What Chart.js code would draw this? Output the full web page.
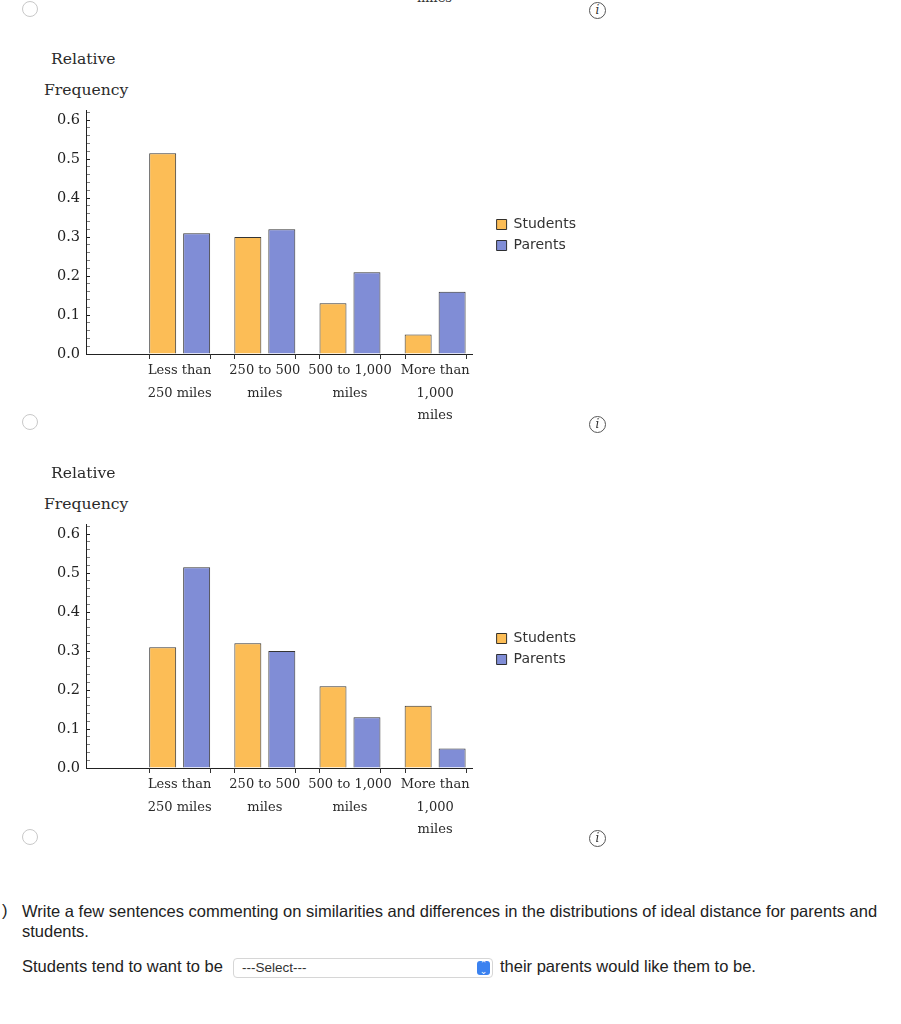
<!DOCTYPE html>
<html>
<head>
<meta charset="utf-8">
<script src="https://cdn.jsdelivr.net/npm/chart.js@4.4.0/dist/chart.umd.min.js"></script>
<style>
  body { margin: 0; background: #fff; width: 901px; height: 1024px; overflow: hidden; position: relative; }
  .abs { position: absolute; }
  .radio { width: 14px; height: 14px; border: 1px solid #c8c8c8; border-radius: 50%; background: #fff; }
  .info { width: 15px; height: 15px; border: 1px solid #555; border-radius: 50%; font: italic 12px "DejaVu Serif", serif; color: #333; text-align: center; line-height: 15px; }
  .ytitle { font: 15.6px "DejaVu Serif", serif; color: #2a2a2a; white-space: nowrap; }
  .miles { font: 13px "DejaVu Serif", serif; color: #333; }
  .q { font: 16.5px "Liberation Sans", Arial, sans-serif; color: #222; white-space: nowrap; }
  .sel { width: 258px; height: 18px; border: 1px solid #d6d6d6; border-radius: 4px; background: #fff; font: 13.5px "Liberation Sans", Arial, sans-serif; color: #333; }
  .sel span.arr { position: absolute; right: 2px; top: 2px; width: 13px; height: 14px; border-radius: 3px; background: #3b82f0; color: #fff; font: 9px "DejaVu Sans", sans-serif; text-align: center; line-height: 7px; }
</style>
</head>
<body>
<div class="abs miles" style="left:417px; top:-10px;">miles</div>

<div class="abs radio" style="left:22px; top:1px;"></div>
<div class="abs info" style="left:589px; top:2px;">i</div>
<div class="abs ytitle" style="left:51px; top:50px;">Relative</div>
<div class="abs ytitle" style="left:44px; top:81px;">Frequency</div>
<canvas id="chart1" class="abs" width="600" height="330" style="left:0; top:100px;"></canvas>

<div class="abs radio" style="left:22px; top:414px;"></div>
<div class="abs info" style="left:589px; top:416px;">i</div>
<div class="abs ytitle" style="left:51px; top:464px;">Relative</div>
<div class="abs ytitle" style="left:44px; top:495px;">Frequency</div>
<canvas id="chart2" class="abs" width="600" height="330" style="left:0; top:514px;"></canvas>

<div class="abs radio" style="left:22px; top:829px;"></div>
<div class="abs info" style="left:589px; top:830px;">i</div>

<div class="abs q" style="left:2px; top:901px;">)</div>
<div class="abs q" style="left:22px; top:901px; line-height:20px;">Write a few sentences commenting on similarities and differences in the distributions of ideal distance for parents and<br>students.</div>
<div class="abs q" style="left:22px; top:957px;">Students tend to want to be</div>
<div class="abs sel" style="left:233px; top:958px;"><span style="position:absolute; left:8px; top:1px;">---Select---</span><span class="arr">&#8963;<br>&#8964;</span></div>
<div class="abs q" style="left:500px; top:957px;">their parents would like them to be.</div>

<script>
// distance categories
const categories = [
  ["Less than", "250 miles"],
  ["250 to 500", "miles"],
  ["500 to 1,000", "miles"],
  ["More than", "1,000", "miles"]
];
const yTicks = [0, 0.1, 0.2, 0.3, 0.4, 0.5, 0.6];

// first chart
const students1 = [0.515, 0.30, 0.13, 0.05];
const parents1 = [0.31, 0.32, 0.21, 0.16];
// second chart
const students2 = [0.31, 0.32, 0.21, 0.16];
const parents2 = [0.515, 0.30, 0.13, 0.05];

const orange = "rgb(252,189,86)";
const blue = "rgb(128,141,214)";
const edge = "rgba(30,30,30,0.9)";

// small tick marks under the outer edges of every bar group
const groupTicks = {
  id: "groupTicks",
  afterDatasetsDraw(chart) {
    const ctx = chart.ctx;
    const s = chart.getDatasetMeta(0).data;
    const p = chart.getDatasetMeta(1).data;
    const y = chart.chartArea.bottom;
    ctx.save();
    ctx.strokeStyle = "#333";
    ctx.lineWidth = 1;
    for (let i = 0; i < s.length; i++) {
      const xs = [s[i].x - s[i].width / 2, p[i].x + p[i].width / 2];
      xs.forEach(x => {
        ctx.beginPath();
        ctx.moveTo(Math.round(x) + 0.5, y);
        ctx.lineTo(Math.round(x) + 0.5, y + 5);
        ctx.stroke();
      });
    }
    ctx.restore();
  }
};

// put the legend a bit away from the plot, centred on the plot height
const legendShift = {
  id: "legendShift",
  afterLayout(chart) {
    const lg = chart.legend;
    const w = lg.width;
    lg.left = chart.chartArea.right + 17;
    lg.right = lg.left + w;
    lg.top = chart.chartArea.top + 3;
    lg.bottom = chart.chartArea.bottom + 3;
  }
};

function makeChart(id, students, parents) {
  const ctx = document.getElementById(id).getContext("2d");
  return new Chart(ctx, {
    type: "bar",
    data: {
      datasets: [
        {
          label: "Students",
          data: students.map((v, i) => ({ x: i + 1, y: v })),
          backgroundColor: orange,
          borderColor: edge,
          borderWidth: 1,
          categoryPercentage: 0.798,
          barPercentage: 0.794
        },
        {
          label: "Parents",
          data: parents.map((v, i) => ({ x: i + 1, y: v })),
          backgroundColor: blue,
          borderColor: edge,
          borderWidth: 1,
          categoryPercentage: 0.798,
          barPercentage: 0.794
        }
      ]
    },
    options: {
      responsive: false,
      animation: false,
      layout: { padding: { top: 10, left: 0, right: 31, bottom: 0 } },
      plugins: {
        tooltip: { enabled: false },
        legend: {
          position: "right",
          align: "center",
          labels: {
            boxWidth: 10,
            boxHeight: 10,
            padding: 7,
            color: "#333",
            font: { family: "DejaVu Sans", size: 14 }
          }
        }
      },
      scales: {
        x: {
          type: "linear",
          offset: false,
          min: -0.1,
          max: 4.44,
          afterBuildTicks: scale => {
            scale.ticks = categories.map((c, i) => ({ value: i + 1 }));
          },
          afterFit: scale => {
            scale.height = 76;
            scale.paddingLeft = 0;
            scale.paddingRight = 0;
          },
          grid: { display: false, drawTicks: false, offset: false },
          border: { display: true, color: "#222", width: 1 },
          ticks: {
            autoSkip: false,
            maxRotation: 0,
            padding: 6,
            color: "#2a2a2a",
            font: { family: "DejaVu Serif", size: 13, lineHeight: 1.7 },
            callback: v => categories[v - 1] || ""
          }
        },
        y: {
          min: 0,
          max: 0.626,
          afterFit: scale => {
            scale.width = 86;
            scale.paddingTop = 0;
            scale.paddingBottom = 0;
          },
          grid: {
            drawOnChartArea: false,
            drawTicks: true,
            tickLength: -4,
            tickColor: c => (yTicks.some(t => Math.abs(t - c.tick.value) < 1e-6) ? "#222" : "rgba(40,40,40,0.6)"),
            tickWidth: 1
          },
          border: { display: true, color: "#222", width: 1 },
          ticks: {
            stepSize: 0.02,
            includeBounds: false,
            autoSkip: false,
            padding: 10,
            color: "#222",
            font: { family: "DejaVu Serif", size: 14.5 },
            callback: v => {
              const t = yTicks.find(t => Math.abs(t - v) < 1e-6);
              return t === undefined ? "" : t.toFixed(1);
            }
          }
        }
      }
    },
    plugins: [groupTicks, legendShift]
  });
}

makeChart("chart1", students1, parents1);
makeChart("chart2", students2, parents2);
</script>
</body>
</html>
